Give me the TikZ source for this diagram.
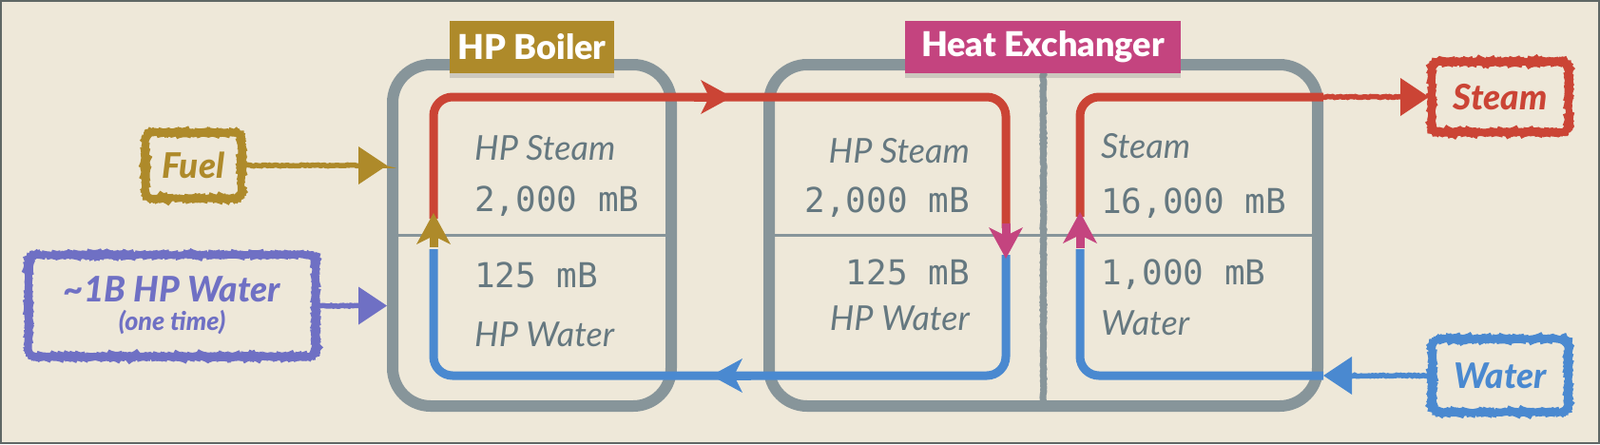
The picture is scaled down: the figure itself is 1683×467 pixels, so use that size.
\documentclass[tikz,border=0pt]{standalone}
\usepackage{fontspec}
\setmainfont{Lato}
\newfontfamily\monofont{DejaVu Sans Mono}
\newfontfamily\heavyfont{Lato Black}
\usetikzlibrary{arrows.meta,decorations.pathmorphing,shadows}

\definecolor{paper}{HTML}{EEE8D9}
\definecolor{frame}{HTML}{5F6765}
\definecolor{shell}{HTML}{87959A}
\definecolor{steamred}{HTML}{CB4435}
\definecolor{waterblue}{HTML}{4A89D0}
\definecolor{fuelgold}{HTML}{AE8A2A}
\definecolor{hxpink}{HTML}{C4447F}
\definecolor{hpviolet}{HTML}{6F70C4}
\definecolor{ink}{HTML}{657880}

\begin{document}
\begin{tikzpicture}[x=1pt,y=-1pt,
    shell box/.style={draw=shell,line width=12pt,rounded corners=40pt,minimum height=359pt},
    title/.style={text=white,font=\heavyfont\fontsize{36}{40}\selectfont,minimum height=55pt,
                  inner sep=0pt,drop shadow={shadow xshift=0pt,shadow yshift=-5pt,opacity=0.3}},
    sketch/.style={decorate,decoration={random steps,segment length=2pt,amplitude=0.6pt}},
    source/.style={sketch,draw,line width=6pt,rounded corners=9pt,inner sep=0pt,
                   font=\heavyfont\fontsize{37}{32}\selectfont\itshape},
    feed/.style={decorate,decoration={random steps,segment length=2pt,amplitude=0.6pt,
                 post=lineto,post length=12pt},
                 line width=5.5pt,-{Triangle[length=30pt,width=40pt,line width=0pt]}},
    pipe/.style={line width=9pt,rounded corners=20pt},
    flow tip/.style={-{Stealth[length=33pt,width=36pt,inset=9pt,line width=0pt]}},
    tag/.style={text=ink,font=\fontsize{36}{40}\selectfont\itshape,inner sep=0pt},
    qty/.style={text=ink,font=\monofont\fontsize{36}{40}\selectfont,inner sep=0pt}]

  \useasboundingbox (0,0) rectangle (1683,467);
  \fill[paper] (0,0) rectangle (1683,467);

  % vessels
  \node[shell box,minimum width=293pt] (boiler) at (559.5,247.5) {};
  \node[shell box,minimum width=577pt] (hx) at (1097.5,247.5) {};
  \draw[shell,line width=3pt] (boiler.west) -- (boiler.east);
  \draw[shell,line width=3pt] (hx.west) -- (hx.east);
  \draw[shell,line width=7pt,sketch] (hx.north) -- ([yshift=6pt]hx.south);

  % HP loop
  \draw[pipe,steamred] (456,230) -- (456,102) -- (1058,102) -- (1058,240);
  \draw[pipe,waterblue] (1058,268) -- (1058,395) -- (456,395) -- (456,262);
  \draw[pipe,steamred,flow tip] (730,102) -- (770,102);
  \draw[pipe,waterblue,flow tip] (790,395) -- (748,395);
  \draw[pipe,fuelgold,flow tip] (456,260) -- (456,224);
  \draw[pipe,hxpink,flow tip] (1058,235) -- (1058,272);

  % LP side
  \draw[pipe,waterblue] (hx.east |- 0,395) -- (1136,395) -- (1136,262);
  \draw[pipe,steamred] (1136,228) -- (1136,102) -- (hx.east |- 0,102);
  \draw[pipe,hxpink,flow tip] (1136,261) -- (1136,223);

  % titles
  \node[title,fill=fuelgold,minimum width=173pt] (boilertitle) at (559.5,49.5) {HP Boiler};
  \node[title,fill=hxpink,minimum width=290pt] (hxtitle) at (1097,49.5) {Heat Exchanger};

  % tank contents
  \node[tag,anchor=base west] (bsteam) at (499,168) {HP Steam};
  \node[qty,anchor=base west] (bsteamq) at (499,222) {2,000 mB};
  \node[qty,anchor=base west] (bwaterq) at (499,302) {125 mB};
  \node[tag,anchor=base west] (bwater) at (499,364) {HP Water};

  \node[tag,anchor=base east] (hsteam) at (1020,171) {HP Steam};
  \node[qty,anchor=base east] (hsteamq) at (1020,223) {2,000 mB};
  \node[qty,anchor=base east] (hwaterq) at (1020,299) {125 mB};
  \node[tag,anchor=base east] (hwater) at (1020,347) {HP Water};

  \node[tag,anchor=base west] (lsteam) at (1158,166) {Steam};
  \node[qty,anchor=base west] (lsteamq) at (1158,224) {16,000 mB};
  \node[qty,anchor=base west] (lwaterq) at (1158,299) {1,000 mB};
  \node[tag,anchor=base west] (lwater) at (1158,352) {Water};

  % inputs and outputs
  \node[source,draw=fuelgold,text=fuelgold,minimum width=101pt,minimum height=69pt] (fuel) at (203.5,174) {Fuel};
  \node[source,draw=hpviolet,text=hpviolet,minimum width=302pt,minimum height=107pt,align=center]
       (hpwater) at (181,321.5) {\textasciitilde1B HP Water\\[-2pt]{\fontsize{27}{30}\selectfont(one time)}};
  \node[source,draw=steamred,text=steamred,minimum width=144pt,minimum height=74pt] (steam) at (1578,102) {Steam};
  \node[source,draw=waterblue,text=waterblue,minimum width=143pt,minimum height=77pt] (water) at (1578,395) {Water};

  \draw[feed,fuelgold] (fuel) -- (fuel -| boiler.west);
  \draw[feed,hpviolet] (hpwater) -- (hpwater -| boiler.west);
  \draw[feed,steamred] (hx.east |- steam) -- (steam);
  \draw[feed,waterblue] (water) -- (water -| hx.east);

  \draw[frame,line width=2pt] (1,1) rectangle (1682,466);
\end{tikzpicture}
\end{document}
